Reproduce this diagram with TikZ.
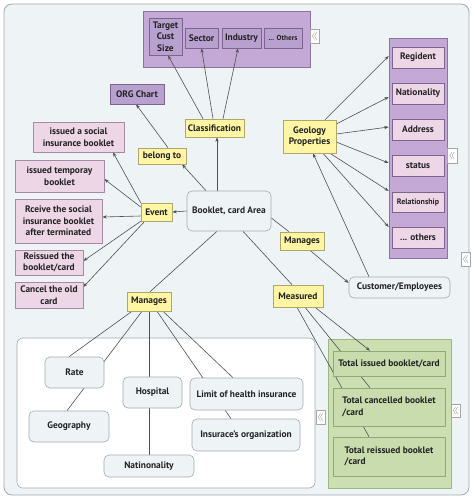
\documentclass[tikz,border=0pt]{standalone}
\usepackage{fontspec}
\setmainfont{PT Sans}
\usetikzlibrary{arrows.meta}
\pgfdeclarelayer{bg}
\pgfdeclarelayer{lines}
\pgfsetlayers{bg,lines,main}
\definecolor{bgc}{HTML}{EEF3F6}
\definecolor{outd}{HTML}{9FA9AE}
\definecolor{yelf}{HTML}{FFF6A3}
\definecolor{yeld}{HTML}{B0A56A}
\definecolor{purg}{HTML}{C4A9D6}
\definecolor{purgd}{HTML}{8C739E}
\definecolor{purf}{HTML}{B9A1CF}
\definecolor{purd}{HTML}{7B6590}
\definecolor{pinkf}{HTML}{EDD6E6}
\definecolor{pinkd}{HTML}{A48AA3}
\definecolor{grng}{HTML}{CCDFB3}
\definecolor{grngd}{HTML}{9DB882}
\definecolor{tgf}{HTML}{C8DCAD}
\definecolor{tgd}{HTML}{8FAA72}
\definecolor{topd}{HTML}{A2ABAF}
\definecolor{linec}{HTML}{505050}
\definecolor{txt}{HTML}{222222}
\tikzset{
  base/.style={draw, inner sep=1pt, align=center, text=txt, line width=0.6pt,
    font=\bfseries\fontsize{9.4}{11.5}\selectfont},
  yel/.style={base, fill=yelf, draw=yeld},
  pur/.style={base, fill=purf, draw=purd},
  pink/.style={base, fill=pinkf, draw=pinkd},
  topic/.style={base, fill=bgc, draw=topd, rounded corners=5pt},
  tgrn/.style={base, fill=tgf, draw=tgd, align=left},
  grp/.style={draw, line width=0.6pt, inner sep=0pt},
  con/.style={draw=linec, line width=0.6pt},
  arr/.style={con, -{Stealth[length=4.5pt,width=3.2pt]}},
  sz/.style 2 args={minimum width=#1pt, minimum height=#2pt},
  collapse/.style={draw=gray!70, fill=white, inner sep=0pt, line width=0.4pt,
    path picture={
      \draw[gray!80, line width=0.35pt]
        ([xshift=0pt,yshift=3.5pt]path picture bounding box.center) -- ++(-2.2pt,-3.5pt) -- ++(2.2pt,-3.5pt);
      \draw[gray!80, line width=0.35pt]
        ([xshift=2.2pt,yshift=3.5pt]path picture bounding box.center) -- ++(-2.2pt,-3.5pt) -- ++(2.2pt,-3.5pt);
    }},
}
\begin{document}
\begin{tikzpicture}[x=1pt,y=-1pt]
\useasboundingbox (0,0) rectangle (474,500);
\begin{pgfonlayer}{bg}
\draw[fill=bgc, draw=outd, rounded corners=8pt, line width=0.8pt] (4,4) rectangle (469,495);
\node[grp, fill=purg, draw=purgd, sz={167}{56}] (gtop) at (226.5,39) {};
\node[grp, fill=purg, draw=purgd, sz={58}{220}] (gright) at (418,148) {};
\node[grp, fill=white, draw=topd, rounded corners=6pt, sz={298}{150}] (gwhite) at (166,413) {};
\node[grp, fill=grng, draw=grngd, sz={123}{149}] (ggreen) at (389.5,413.5) {};
\end{pgfonlayer}

% top purple group
\node[pur, sz={33}{37}] (target) at (165.5,36.5) {Target\\Cust\\Size};
\node[pur, sz={33}{20}] (sector) at (201.5,38) {Sector};
\node[pur, sz={39}{20}] (industry) at (241.5,38) {Industry};
\node[pur, sz={38}{20}, font=\bfseries\fontsize{7.3}{9}\selectfont] (others) at (283,38) {... Others};
\node[collapse, sz={9}{14}] (c1) at (314.5,36) {};

\node[pur, sz={54}{20}] (org) at (137,94) {ORG Chart};
\node[pink, sz={91}{30}] (social) at (78.5,137) {issued a social\\insurance booklet};
\node[pink, sz={89}{32}] (temp) at (59.5,176) {issued temporay\\booklet};
\node[pink, sz={87}{44}] (rceive) at (58.5,221) {Rceive the social\\insurance booklet\\after terminated};
\node[pink, sz={68}{25}] (reiss) at (49,262.5) {Reissued the\\booklet/card};
\node[pink, sz={68}{26}] (cancel) at (49,295) {Cancel the old\\card};

\node[yel, sz={31}{18}] (event) at (156.5,212) {Event};
\node[topic, sz={84}{40}] (bk) at (229,211) {Booklet, card Area};
\node[yel, sz={48}{16}] (belong) at (162,156) {belong to};
\node[yel, sz={59}{18}] (cls) at (214.5,128) {Classification};
\node[yel, sz={53}{33}] (geo) at (309.5,136.5) {Geology\\Properties};

% right purple group
\node[pink, draw=purd, sz={52}{21}] (reg) at (418,57.5) {Regident};
\node[pink, draw=purd, sz={52}{21}] (nat) at (418,93.5) {Nationality};
\node[pink, draw=purd, sz={52}{21}] (addr) at (418,129.5) {Address};
\node[pink, draw=purd, sz={52}{21}] (stat) at (418,165.5) {status};
\node[pink, draw=purd, sz={52}{20}, font=\bfseries\fontsize{7.9}{9}\selectfont] (rel) at (418,202) {Relationship};
\node[pink, draw=purd, sz={52}{21}] (oth) at (418,237.5) {... others};
\node[collapse, sz={10}{15}] (c2) at (452,155.5) {};
\node[collapse, sz={9}{14}] (c3) at (465.5,259) {};

\node[yel, sz={44}{18}] (manr) at (302,241) {Manages};
\node[topic, sz={101}{21}] (cust) at (399.5,287.5) {Customer/Employees};
\node[yel, sz={50}{22}] (meas) at (298,296) {Measured};
\node[yel, sz={44}{19}] (manl) at (149,301.5) {Manages};

% bottom-left group
\node[topic, sz={59}{31}] (rate) at (74.5,372.5) {Rate};
\node[topic, sz={80}{31}] (geog) at (69,426.5) {Geography};
\node[topic, sz={59}{31}] (hosp) at (152.5,392.5) {Hospital};
\node[topic, sz={113}{32}] (limit) at (246.5,394) {Limit of health insurance};
\node[topic, sz={108}{32}] (insur) at (246,435) {Insurace’s organization};
\node[topic, sz={90}{22}] (natin) at (149,466) {Natinonality};
\node[collapse, sz={9}{14}] (c4) at (320.5,417) {};

% green group
\node[tgrn, sz={112}{25}] (tiss) at (389,363.5) {Total issued booklet/card};
\node[tgrn, sz={112}{38}] (tcan) at (389,407) {Total cancelled booklet\\/card};
\node[tgrn, sz={112}{39}] (trei) at (389,456.5) {Total reissued booklet\\/card};
\node[collapse, sz={9}{13}] (c5) at (455.5,410.5) {};

\begin{pgfonlayer}{lines}
% classification branch
\draw[arr] ([xshift=-12pt]bk.north) -- ([xshift=2.5pt]cls.south);
\draw[arr] ([xshift=-11.5pt]cls.north) -- ([xshift=2.5pt]target.south);
\draw[arr] ([xshift=-1.5pt]cls.north) -- (sector.south);
\draw[arr] ([xshift=8.5pt]cls.north) -- ([xshift=-3.5pt]industry.south);
% belong to
\draw[arr] ([xshift=-23pt]bk.north) -- ([xshift=20pt]belong.south);
\draw[arr] ([xshift=6pt]belong.north) -- ([xshift=-1pt]org.south);
% event
\draw[arr] (bk.west) -- (event.east);
\draw[arr] (event.north west) -- ([xshift=34.5pt]social.south);
\draw[arr] ([yshift=5pt]event.west) -- ([yshift=-3pt]temp.east);
\draw[arr] ([yshift=-4pt]event.west) -- ([yshift=4pt]rceive.east);
\draw[arr] (event.south west) -- ([yshift=1.5pt]reiss.east);
\draw[arr] ([xshift=4pt]event.south west) -- ([yshift=8pt]cancel.east);
% geology
\draw[arr] ([xshift=15.5pt]geo.north) -- ([yshift=92pt]gright.west);
\draw[arr] ([yshift=12.5pt]geo.east) -- ([yshift=51pt]gright.west);
\draw[arr] ([yshift=2.5pt]geo.east) -- ([yshift=21pt]gright.west);
\draw[arr] ([yshift=-5.5pt]geo.east) -- ([yshift=-15pt]gright.west);
\draw[arr] ([xshift=20.5pt]geo.south) -- ([yshift=-43pt]gright.west);
\draw[arr] ([xshift=13.5pt]geo.south) -- ([yshift=-79pt]gright.west);
\draw[arr] ([xshift=-30.5pt]cust.north) -- ([xshift=3.5pt]geo.south);
% manages right
\draw[con] ([yshift=-7pt]bk.east) -- ([xshift=-13pt]manr.north);
\draw[arr] ([xshift=8pt]manr.south) -- ([yshift=4.5pt]cust.west);
% measured
\draw[con] ([xshift=14pt]bk.south) -- ([xshift=-6pt]meas.north);
\draw[arr] ([xshift=17pt]meas.south) -- ([xshift=-19pt]tiss.north);
\draw[con] ([xshift=7pt]meas.south) -- ([xshift=-19pt]tcan.north);
\draw[con] ([xshift=-1pt]meas.south) -- ([xshift=-20pt]trei.north);
% manages left
\draw[con] ([xshift=-12pt]bk.south) -- ([xshift=1pt]manl.north);
\draw[con] ([xshift=-17pt]manl.south) -- ([xshift=-5.5pt]rate.north);
\draw[con] ([xshift=-7pt]manl.south) -- ([xshift=-2pt]geog.north);
\draw[con] (manl.south) -- (natin.north);
\draw[con] ([xshift=8pt]manl.south) -- ([xshift=-15pt]insur.north);
\draw[con] ([xshift=14pt]manl.south) -- ([xshift=-13.5pt]limit.north);
\end{pgfonlayer}
\end{tikzpicture}
\end{document}
